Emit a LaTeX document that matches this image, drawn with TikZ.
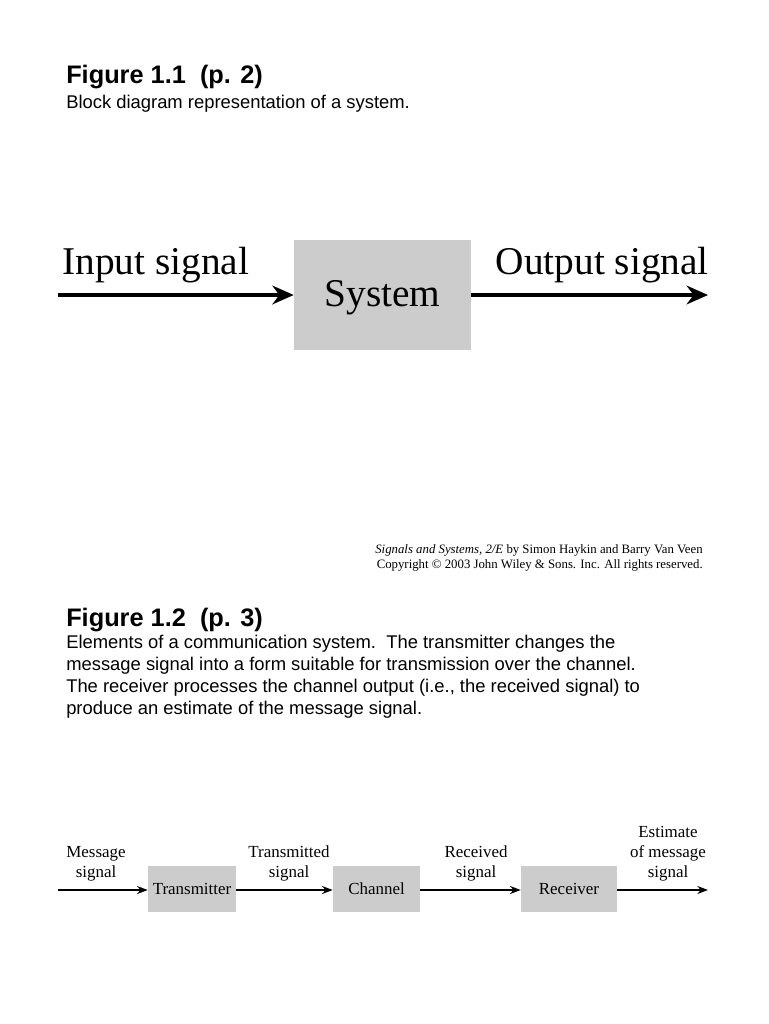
\documentclass[tikz,border=0pt]{standalone}
\usepackage{fontspec}
\setmainfont{Liberation Serif}
\newfontfamily\hsans{Liberation Sans}
\usetikzlibrary{arrows.meta}
\definecolor{boxgray}{RGB}{204,204,204}
\tikzset{
  blk/.style={fill=boxgray,draw=none,inner sep=0pt},
  bigarrow/.style={line width=3.5pt,-{Stealth[length=16pt,width=14pt]}},
  smallarrow/.style={line width=1.2pt,-{Stealth[length=8pt,width=6pt]}},
  biglbl/.style={font=\fontsize{29.5}{32}\selectfont,inner sep=0pt},
  smlbl/.style={font=\fontsize{12.7}{15}\selectfont,align=center,inner sep=0pt},
  boxlbl/.style={font=\fontsize{12.7}{15}\selectfont},
  head/.style={font=\hsans\bfseries\fontsize{19}{22}\selectfont,anchor=base west,inner sep=0pt},
  body/.style={font=\hsans\fontsize{13.8}{16.5}\selectfont,anchor=north west,align=left,inner sep=0pt},
  credit/.style={font=\fontsize{9.6}{11}\selectfont,anchor=base east,inner sep=0pt}
}
\begin{document}
\begin{tikzpicture}[x=0.75pt,y=-0.75pt]
\useasboundingbox (0,0) rectangle (768,1024);
\node[head] (h1) at (66,84) {Figure 1.1\ \ (p. 2)};
\node[body] (d1) at (66,95) {Block diagram representation of a system.};
\node[blk,minimum width=132.75pt,minimum height=82.5pt] (sys) at (382.5,295) {};
\node[biglbl] (syst) at (382.5,298) {System};
\coordinate (in) at (58,295);
\coordinate (out) at (708,295);
\draw[bigarrow] (in) -- (sys.west);
\draw[bigarrow] (sys.east) -- (out);
\node[biglbl,anchor=base west] (il) at (62,274) {Input signal};
\node[biglbl,anchor=base east] (ol) at (709,274) {Output signal};
\node[credit] (cr) at (703,553) {\textit{Signals and Systems, 2/E} by Simon Haykin and Barry Van Veen};
\node[credit] (cr2) at (703,568) {Copyright \textcopyright{} 2003 John Wiley \& Sons. Inc. All rights reserved.};
\node[head] (h2) at (66,626) {Figure 1.2\ \ (p. 3)};
\node[body] (d2) at (66,635) {Elements of a communication system.\ \ The transmitter changes the\\message signal into a form suitable for transmission over the channel.\\The receiver processes the channel output (i.e., the received signal) to\\produce an estimate of the message signal.};
\node[blk,minimum width=66pt,minimum height=34.5pt] (tx) at (192,889) {};
\node[boxlbl] at (tx) {Transmitter};
\node[blk,minimum width=65.25pt,minimum height=34.5pt] (ch) at (376.5,889) {};
\node[boxlbl] at (ch) {Channel};
\node[blk,minimum width=72pt,minimum height=34.5pt] (rx) at (569,889) {};
\node[boxlbl] at (rx) {Receiver};
\coordinate (m) at (58,890);
\coordinate (e) at (708,890);
\draw[smallarrow] (m) -- (tx.west |- m);
\draw[smallarrow] (tx.east |- m) -- (ch.west |- m);
\draw[smallarrow] (ch.east |- m) -- (rx.west |- m);
\draw[smallarrow] (rx.east |- m) -- (e);
\node[smlbl,anchor=south] (ml) at (96,881) {Message\\signal};
\node[smlbl,anchor=south] (tl) at (289,881) {Transmitted\\signal};
\node[smlbl,anchor=south] (rl) at (476,881) {Received\\signal};
\node[smlbl,anchor=south] (el) at (668,881) {Estimate\\of message\\signal};
\end{tikzpicture}
\end{document}
